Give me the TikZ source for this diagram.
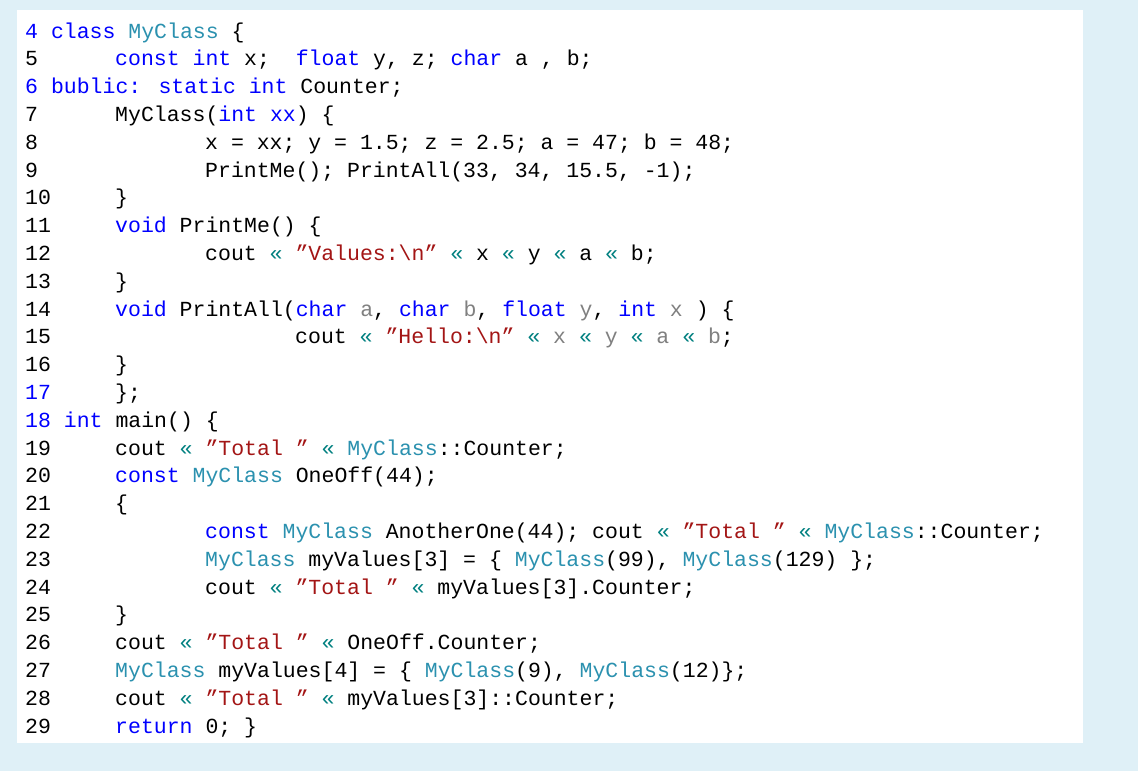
\documentclass[tikz,border=0pt]{standalone}
\usepackage{fontspec}
\setmainfont{Liberation Mono}
\definecolor{bg}{HTML}{DFF0F7}
\definecolor{kwc}{HTML}{0000FF}
\definecolor{clc}{HTML}{2B91AF}
\definecolor{stc}{HTML}{A31515}
\definecolor{opc}{HTML}{008080}
\definecolor{gyc}{HTML}{808080}
\newcommand{\kw}[1]{\textcolor{kwc}{#1}}
\newcommand{\cl}[1]{\textcolor{clc}{#1}}
\newcommand{\st}[1]{\textcolor{stc}{#1}}
\newcommand{\op}{\textcolor{opc}{<<}}
\newcommand{\gy}[1]{\textcolor{gyc}{#1}}
\begin{document}
\begin{tikzpicture}[x=1pt,y=-1pt,
  ln/.style={anchor=base west,inner sep=0pt,font=\fontsize{21.5}{24}\selectfont}]
\fill[bg] (0,0) rectangle (1138,771);
\fill[white] (17,10) rectangle (1083,743);
\def\L#1{38+27.8*(#1-4)}
\node[ln] (n4) at (25,{\L{4}}) {\kw{4 class} \cl{MyClass} \{};
\node[ln] (n5) at (25,{\L{5}}) {5};
\node[ln] (c5) at (115,{\L{5}}) {\kw{const int} x;\ \ \kw{float} y, z; \kw{char} a , b;};
\node[ln] (n6) at (25,{\L{6}}) {\kw{6 bublic: static int} Counter;};
\node[ln] (n7) at (25,{\L{7}}) {7};
\node[ln] (c7) at (115,{\L{7}}) {MyClass(\kw{int xx}) \{};
\node[ln] (n8) at (25,{\L{8}}) {8};
\node[ln] (c8) at (205,{\L{8}}) {x = xx; y = 1.5; z = 2.5; a = 47; b = 48;};
\node[ln] (n9) at (25,{\L{9}}) {9};
\node[ln] (c9) at (205,{\L{9}}) {PrintMe(); PrintAll(33, 34, 15.5, -1);};
\node[ln] (n10) at (25,{\L{10}}) {10};
\node[ln] (c10) at (115,{\L{10}}) {\}};
\node[ln] (n11) at (25,{\L{11}}) {11};
\node[ln] (c11) at (115,{\L{11}}) {\kw{void} PrintMe() \{};
\node[ln] (n12) at (25,{\L{12}}) {12};
\node[ln] (c12) at (205,{\L{12}}) {cout \op{} \st{"Values:\textbackslash n"} \op{} x \op{} y \op{} a \op{} b;};
\node[ln] (n13) at (25,{\L{13}}) {13};
\node[ln] (c13) at (115,{\L{13}}) {\}};
\node[ln] (n14) at (25,{\L{14}}) {14};
\node[ln] (c14) at (115,{\L{14}}) {\kw{void} PrintAll(\kw{char} \gy{a}, \kw{char} \gy{b}, \kw{float} \gy{y}, \kw{int} \gy{x} ) \{};
\node[ln] (n15) at (25,{\L{15}}) {15};
\node[ln] (c15) at (295,{\L{15}}) {cout \op{} \st{"Hello:\textbackslash n"} \op{} \gy{x} \op{} \gy{y} \op{} \gy{a} \op{} \gy{b};};
\node[ln] (n16) at (25,{\L{16}}) {16};
\node[ln] (c16) at (115,{\L{16}}) {\}};
\node[ln] (n17) at (25,{\L{17}}) {\kw{17}};
\node[ln] (c17) at (115,{\L{17}}) {\};};
\node[ln] (n18) at (25,{\L{18}}) {\kw{18 int} main() \{};
\node[ln] (n19) at (25,{\L{19}}) {19};
\node[ln] (c19) at (115,{\L{19}}) {cout \op{} \st{"Total "} \op{} \cl{MyClass}::Counter;};
\node[ln] (n20) at (25,{\L{20}}) {20};
\node[ln] (c20) at (115,{\L{20}}) {\kw{const} \cl{MyClass} OneOff(44);};
\node[ln] (n21) at (25,{\L{21}}) {21};
\node[ln] (c21) at (115,{\L{21}}) {\{};
\node[ln] (n22) at (25,{\L{22}}) {22};
\node[ln] (c22) at (205,{\L{22}}) {\kw{const} \cl{MyClass} AnotherOne(44); cout \op{} \st{"Total "} \op{} \cl{MyClass}::Counter;};
\node[ln] (n23) at (25,{\L{23}}) {23};
\node[ln] (c23) at (205,{\L{23}}) {\cl{MyClass} myValues[3] = \{ \cl{MyClass}(99), \cl{MyClass}(129) \};};
\node[ln] (n24) at (25,{\L{24}}) {24};
\node[ln] (c24) at (205,{\L{24}}) {cout \op{} \st{"Total "} \op{} myValues[3].Counter;};
\node[ln] (n25) at (25,{\L{25}}) {25};
\node[ln] (c25) at (115,{\L{25}}) {\}};
\node[ln] (n26) at (25,{\L{26}}) {26};
\node[ln] (c26) at (115,{\L{26}}) {cout \op{} \st{"Total "} \op{} OneOff.Counter;};
\node[ln] (n27) at (25,{\L{27}}) {27};
\node[ln] (c27) at (115,{\L{27}}) {\cl{MyClass} myValues[4] = \{ \cl{MyClass}(9), \cl{MyClass}(12)\};};
\node[ln] (n28) at (25,{\L{28}}) {28};
\node[ln] (c28) at (115,{\L{28}}) {cout \op{} \st{"Total "} \op{} myValues[3]::Counter;};
\node[ln] (n29) at (25,{\L{29}}) {29};
\node[ln] (c29) at (115,{\L{29}}) {\kw{return} 0; \}};
\end{tikzpicture}
\end{document}
